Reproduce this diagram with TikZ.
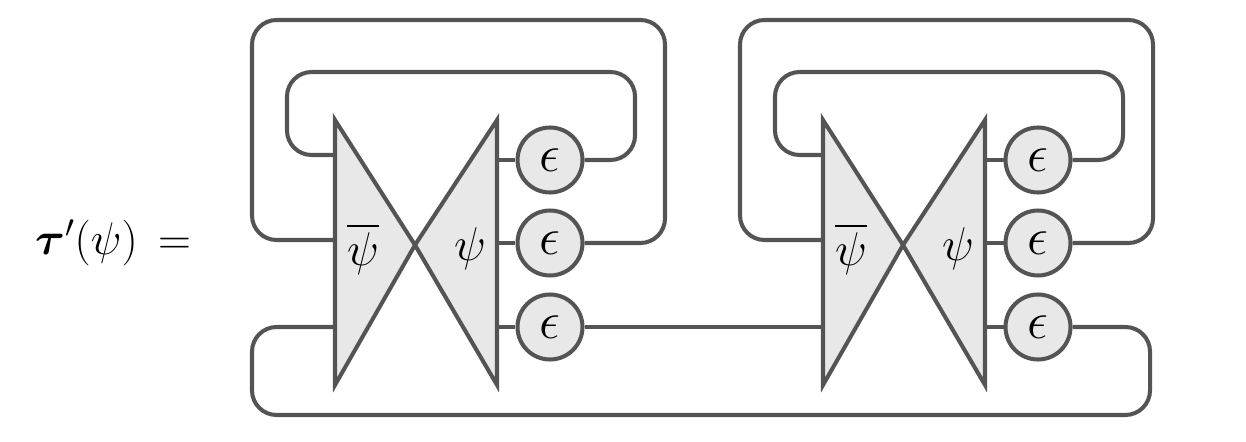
\RequirePackage{fix-cm}
\documentclass[tikz,border=0pt]{standalone}
\usepackage{amsmath,bm}
\begin{document}
\begin{tikzpicture}[x=0.02cm,y=-0.02cm,
  wire/.style={draw=black!67,line width=2.3pt,rounded corners=14pt},
  tri/.style={draw=black!67,fill=black!9,line width=2.3pt,line join=miter},
  eps/.style={circle,draw=black!67,fill=black!9,line width=2.3pt,minimum size=1.3cm,inner sep=0pt,font=\fontsize{30}{34}\selectfont}]
\useasboundingbox (0,0) rectangle (1246,442);
\node[font=\fontsize{26}{30}\selectfont] (lab) at (113,243) {$\bm{\tau}'(\psi)\,=$};
\foreach \i/\dx in {A/0,B/488}{
  \begin{scope}[shift={(\dx,0)}]
  \draw[tri] (335,120) -- (415,245) -- (335,385) -- cycle;
  \draw[tri] (497,120) -- (415,245) -- (497,385) -- cycle;
  \node[font=\fontsize{27}{30}\selectfont] (\i pb) at (363,249) {$\overline{\psi}$};
  \node[font=\fontsize{27}{30}\selectfont] (\i p) at (470,249) {$\psi$};
  \node[eps] (\i e1) at (550,160) {$\epsilon$};
  \node[eps] (\i e2) at (550,243) {$\epsilon$};
  \node[eps] (\i e3) at (550,327) {$\epsilon$};
  \coordinate (\i l1) at (335,155);
  \coordinate (\i l2) at (335,240);
  \coordinate (\i l3) at (335,327);
  \foreach \k/\y in {1/160,2/243,3/327} \draw[wire] (497,\y) -- (\i e\k);
  \draw[wire] (\i l1) -- (287,155) -- (287,72) -- (635,72) -- (635,160) -- (\i e1.east);
  \draw[wire] (\i l2) -- (252,240) -- (252,20) -- (665,20) -- (665,243) -- (\i e2.east);
  \end{scope}}
\draw[wire] (Ae3) -- (Bl3);
\draw[wire] (Al3) -- (252,327) -- (252,415) -- (1150,415) -- (1150,327) -- (Be3.east);
\end{tikzpicture}
\end{document}
